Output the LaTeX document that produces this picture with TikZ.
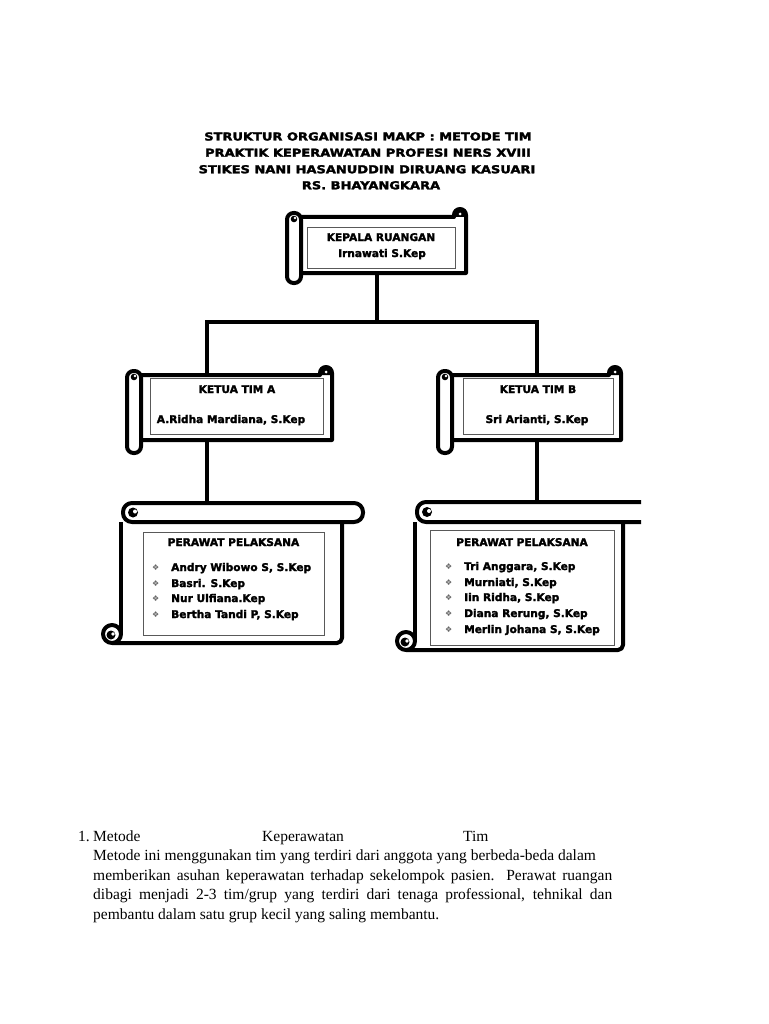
\documentclass[tikz,border=0pt]{standalone}
\usepackage{fontspec}
\setmainfont{Liberation Serif}
\newfontfamily\dv{DejaVu Sans}[BoldFeatures={FakeBold=2.2}]
\newcommand\hscroll[5]{% L T R B RB
  \draw[scroll] ({#1+7},#2) -- ({#3-12},#2) -- ({#3-12},{#2-2}) arc[start angle=180,end angle=360,radius=6] -- (#3,#4) -- ({#1+7},#4);
  \fill ({#3-12},#2) -- ({#3-12},{#2-2}) arc[start angle=180,end angle=360,radius=6] -- (#3,#2) -- cycle;
  \fill[white] ({#3-6},{#2-3}) circle (1.5);
  \draw[scroll,fill=white,rounded corners=6.5] (#1,{#2-4}) rectangle ({#1+14},#5);
  \fill ({#1+7},{#2+2}) circle (3.3);
  \fill[white] ({#1+8},{#2+1}) circle (1.3);
}
\newcommand\vscroll[7]{% rollL rollT rollR rollB bodyL bodyR bodyB
  \draw[scroll] (#5,#4) -- (#5,{#7-9});
  \draw[scroll,rounded corners=5] (#6,#4) -- (#6,#7) -- ({#5-9},#7);
  \draw[scroll,fill=white] ({#5-9},{#7-9}) circle (9);
  \fill ({#5-10},{#7-8}) circle (4.5);
  \fill[white] ({#5-8},{#7-9}) circle (1.8);
  \draw[scroll,fill=white,rounded corners=9] (#1,#2) rectangle (#3,#4);
  \fill ({#1+10},{(#2+#4)/2}) circle (5);
  \fill[white] ({#1+12},{(#2+#4)/2-1}) circle (2);
}
\begin{document}
\begin{tikzpicture}[x=1pt,y=-1pt,
  scroll/.style={line width=4pt, line join=round},
  inbox/.style={draw=black!65, line width=0.9pt, inner sep=0pt},
  lbl/.style={font=\dv\bfseries\fontsize{10.6}{12}\selectfont, inner sep=0pt, anchor=base},
  item/.style={font=\dv\bfseries\fontsize{10.6}{12}\selectfont, inner sep=0pt, anchor=base west},
  blt/.style={font=\dv\fontsize{8}{9}\selectfont, text=black!60, inner sep=0pt, anchor=base west},
  ttl/.style={font=\dv\bfseries\fontsize{11}{13}\selectfont, inner sep=0pt, anchor=base},
  body/.style={font=\fontsize{15.5}{18}\selectfont, inner sep=0pt, anchor=base west},
  conn/.style={line width=4pt}]
\fill[white] (0,0) rectangle (768,1024);
\useasboundingbox (0,0) rectangle (768,1024);

% title
\node[ttl] (t1) at (368,140.5) {\scalebox{1.18}[1]{STRUKTUR ORGANISASI MAKP : METODE TIM}};
\node[ttl] (t2) at (368,156.7) {\scalebox{1.18}[1]{PRAKTIK KEPERAWATAN PROFESI NERS XVIII}};
\node[ttl] (t3) at (367,173.3) {\scalebox{1.18}[1]{STIKES NANI HASANUDDIN DIRUANG KASUARI}};
\node[ttl] (t4) at (371,189.3) {\scalebox{1.18}[1]{RS. BHAYANGKARA}};

% connector coordinates
\coordinate (kepS) at (377,273);
\coordinate (jC) at (377,322);
\coordinate (jA) at (207,322);
\coordinate (jB) at (537,322);
\coordinate (kaN) at (207,375);
\coordinate (kbN) at (537,375);
\coordinate (kaS) at (207,440);
\coordinate (kbS) at (537,440);
\coordinate (paN) at (207,503);
\coordinate (pbN) at (537,502);
\draw[conn] (kepS) -- (jC);
\draw[conn, line join=miter] (kaN) -- (jA) -- (jB) -- (kbN);
\draw[conn] (kaS) -- (paN);
\draw[conn] (kbS) -- (pbN);

% scrolls
\hscroll{287}{217}{466}{273}{283}
\hscroll{127}{375}{332}{440}{453}
\hscroll{438}{375}{621}{440}{453}
\vscroll{123}{503}{363}{522}{121}{342}{643}
\begin{scope}
\clip (0,0) rectangle (641,1024);
\vscroll{417}{502}{660}{522}{415}{623}{650}
\end{scope}

% inner boxes
\node[inbox, minimum width=148pt, minimum height=41pt] (kepala) at (381,247.5) {};
\node[inbox, minimum width=173pt, minimum height=56pt] (ketuaA) at (236.5,406) {};
\node[inbox, minimum width=150pt, minimum height=56pt] (ketuaB) at (538,406) {};
\node[inbox, minimum width=181pt, minimum height=103pt] (perA) at (233.5,583.5) {};
\node[inbox, minimum width=184pt, minimum height=115pt] (perB) at (522,587.5) {};

% labels
\node[lbl] (kp1) at (381,241) {KEPALA RUANGAN};
\node[lbl] (kp2) at (382,257) {Irnawati S.Kep};
\node[lbl] (ka1) at (237,393) {KETUA TIM A};
\node[lbl] (ka2) at (231,423) {A.Ridha Mardiana, S.Kep};
\node[lbl] (kb1) at (538,393) {KETUA TIM B};
\node[lbl] (kb2) at (537,423) {Sri Arianti, S.Kep};

\node[lbl] (pa0) at (233.5,546) {PERAWAT PELAKSANA};
\node[blt] (ba1) at (152,570) {❖}; \node[item] (pa1) at (171,571) {Andry Wibowo S, S.Kep};
\node[blt] (ba2) at (152,586) {❖}; \node[item] (pa2) at (171,587) {Basri. S.Kep};
\node[blt] (ba3) at (152,601) {❖}; \node[item] (pa3) at (171,602) {Nur Ulfiana.Kep};
\node[blt] (ba4) at (152,617) {❖}; \node[item] (pa4) at (171,618) {Bertha Tandi P, S.Kep};

\node[lbl] (pb0) at (522,546) {PERAWAT PELAKSANA};
\node[blt] (bb1) at (445,569) {❖}; \node[item] (pb1) at (464,570) {Tri Anggara, S.Kep};
\node[blt] (bb2) at (445,585) {❖}; \node[item] (pb2) at (464,586) {Murniati, S.Kep};
\node[blt] (bb3) at (445,600) {❖}; \node[item] (pb3) at (464,601) {Iin Ridha, S.Kep};
\node[blt] (bb4) at (445,616) {❖}; \node[item] (pb4) at (464,617) {Diana Rerung, S.Kep};
\node[blt] (bb5) at (445,632) {❖}; \node[item] (pb5) at (464,633) {Merlin Johana S, S.Kep};

% body text
\node[body] (n1) at (78,841) {1.};
\node[body] (l1a) at (93,841) {Metode};
\node[body] (l1b) at (262,841) {Keperawatan};
\node[body] (l1c) at (463,841) {Tim};
\node[body] (l2) at (93,860.5) {Metode ini menggunakan tim yang terdiri dari anggota yang berbeda-beda dalam};
\node[body] (l3) at (93,880) {\makebox[519pt][s]{memberikan asuhan keperawatan terhadap sekelompok pasien. Perawat ruangan}};
\node[body] (l4) at (93,899.5) {\makebox[519pt][s]{dibagi menjadi 2-3 tim/grup yang terdiri dari tenaga professional, tehnikal dan}};
\node[body] (l5) at (93,919) {pembantu dalam satu grup kecil yang saling membantu.};
\end{tikzpicture}
\end{document}
